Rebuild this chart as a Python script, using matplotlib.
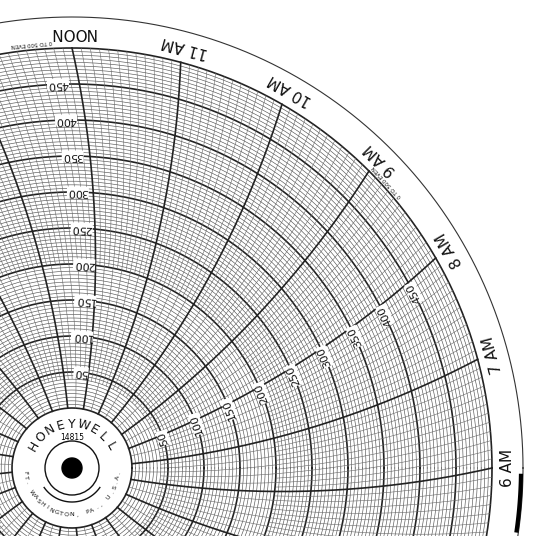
import numpy as np
import matplotlib
matplotlib.use("Agg")
import matplotlib.pyplot as plt

hour_labels = ["NOON", "11 AM", "10 AM", "9 AM", "8 AM", "7 AM", "6 AM"]
hour_values = [12, 11, 10, 9, 8, 7, 6]
value_ticks = [50, 100, 150, 200, 250, 300, 350, 400, 450]
value_min, value_max = 0, 500

CX, CY = 72, 468
R0, R1, RIM = 60, 420, 451
ARC = 950.0

def rad(v):
    return R0 + (v - value_min) / (value_max - value_min) * (R1 - R0)

def hour_angle(h):
    return np.deg2rad(90 + (h - 12) * 15)

def theta_at(h, r):
    return hour_angle(h) - (np.arcsin(R1 / (2 * ARC)) - np.arcsin(r / (2 * ARC)))

def xy(r, th):
    return CX + r * np.cos(th), CY - r * np.sin(th)

fig = plt.figure(figsize=(5.36, 5.36), dpi=100)
ax = fig.add_axes([0, 0, 1, 1])
ax.set_xlim(0, 536); ax.set_ylim(536, 0); ax.axis("off")

full = np.linspace(0, 2 * np.pi, 1500)
for v in np.arange(value_min, value_max + 0.1, 5):
    major = v % 50 == 0
    x, y = xy(rad(v), full)
    ax.plot(x, y, color="#222" if major else "#555", lw=1.2 if major else 0.45)
rr = np.linspace(R0, R1, 200)
for m in range(0, 24 * 60, 5):
    h = m / 60.0
    major = m % 60 == 0
    if major or m % 30 == 0:
        r_start = R0
    elif m % 10 == 0:
        r_start = rad(40)
    else:
        r_start = rad(200)
    rs = rr[rr >= r_start]
    x, y = xy(rs, theta_at(h, rs))
    ax.plot(x, y, color="#222" if major else "#666", lw=1.2 if major else 0.4)

x, y = xy(RIM, full)
ax.plot(x, y, color="#333", lw=0.8)
ax.add_patch(plt.Circle((CX, CY), 57, color="white", zorder=5))
ax.add_patch(plt.Circle((CX, CY), 27, fill=False, ec="#111", lw=1, zorder=6))
ax.add_patch(plt.Circle((CX, CY), 10, color="black", zorder=6))
ths = np.deg2rad(np.linspace(215, 325, 50))
x, y = xy(34, ths); ax.plot(x, y, color="#111", lw=1, zorder=6)

def curved_text(s, r, th_mid, spacing, size, upright_top=True, **kw):
    n = len(s)
    for i, ch in enumerate(s):
        if upright_top:
            th = th_mid + (n / 2 - i - 0.5) * spacing
            rot = np.rad2deg(th) - 90
        else:
            th = th_mid - (n / 2 - i - 0.5) * spacing
            rot = np.rad2deg(th) + 90
        x, y = xy(r, th)
        ax.text(x, y, ch, rotation=rot, ha="center", va="center", fontsize=size,
                zorder=7, color="#111", **kw)

curved_text("HONEYWELL", 44, np.deg2rad(90), np.deg2rad(15), 9)
ax.text(CX, CY - 30, "14815", ha="center", va="center", fontsize=5.5, zorder=7)
curved_text("FT. WASHINGTON, PA., U.S.A.", 47, np.deg2rad(270), np.deg2rad(6.5), 4.5, upright_top=False)

for lab, h in zip(hour_labels, hour_values):
    th = hour_angle(h)
    x, y = xy(436, th)
    ax.text(x, y, lab, rotation=np.rad2deg(th) + 90, ha="center", va="center",
            fontsize=11, color="#111", zorder=7)

for v in value_ticks:
    r = rad(v)
    th = theta_at(12, r) + np.deg2rad(3.2 if v > 100 else 4.5)
    x, y = xy(r, th)
    ax.text(x, y, str(v), rotation=np.rad2deg(th) + 90, ha="center", va="center",
            fontsize=8, color="#111", zorder=7,
            bbox=dict(fc="white", ec="none", pad=0.3))
    th = theta_at(8, r) - np.deg2rad(1.8)
    x, y = xy(r, th)
    ax.text(x, y, str(v), rotation=np.rad2deg(th) + 90, ha="center", va="center",
            fontsize=8, color="#111", zorder=7,
            bbox=dict(fc="white", ec="none", pad=0.3))

for h in (12.3, 8.75):
    th = hour_angle(h) + np.deg2rad(1.0)
    x, y = xy(R1 + 6, th)
    ax.text(x, y, "0 TO 500 EVEN", rotation=np.rad2deg(th) + 90, ha="center",
            va="center", fontsize=4, color="#111", zorder=7)

ths = np.deg2rad(np.linspace(-1, -8, 30))
x, y = xy(RIM - 2, ths); ax.plot(x, y, color="black", lw=3)

fig.savefig("out.png", dpi=100, facecolor="white")
